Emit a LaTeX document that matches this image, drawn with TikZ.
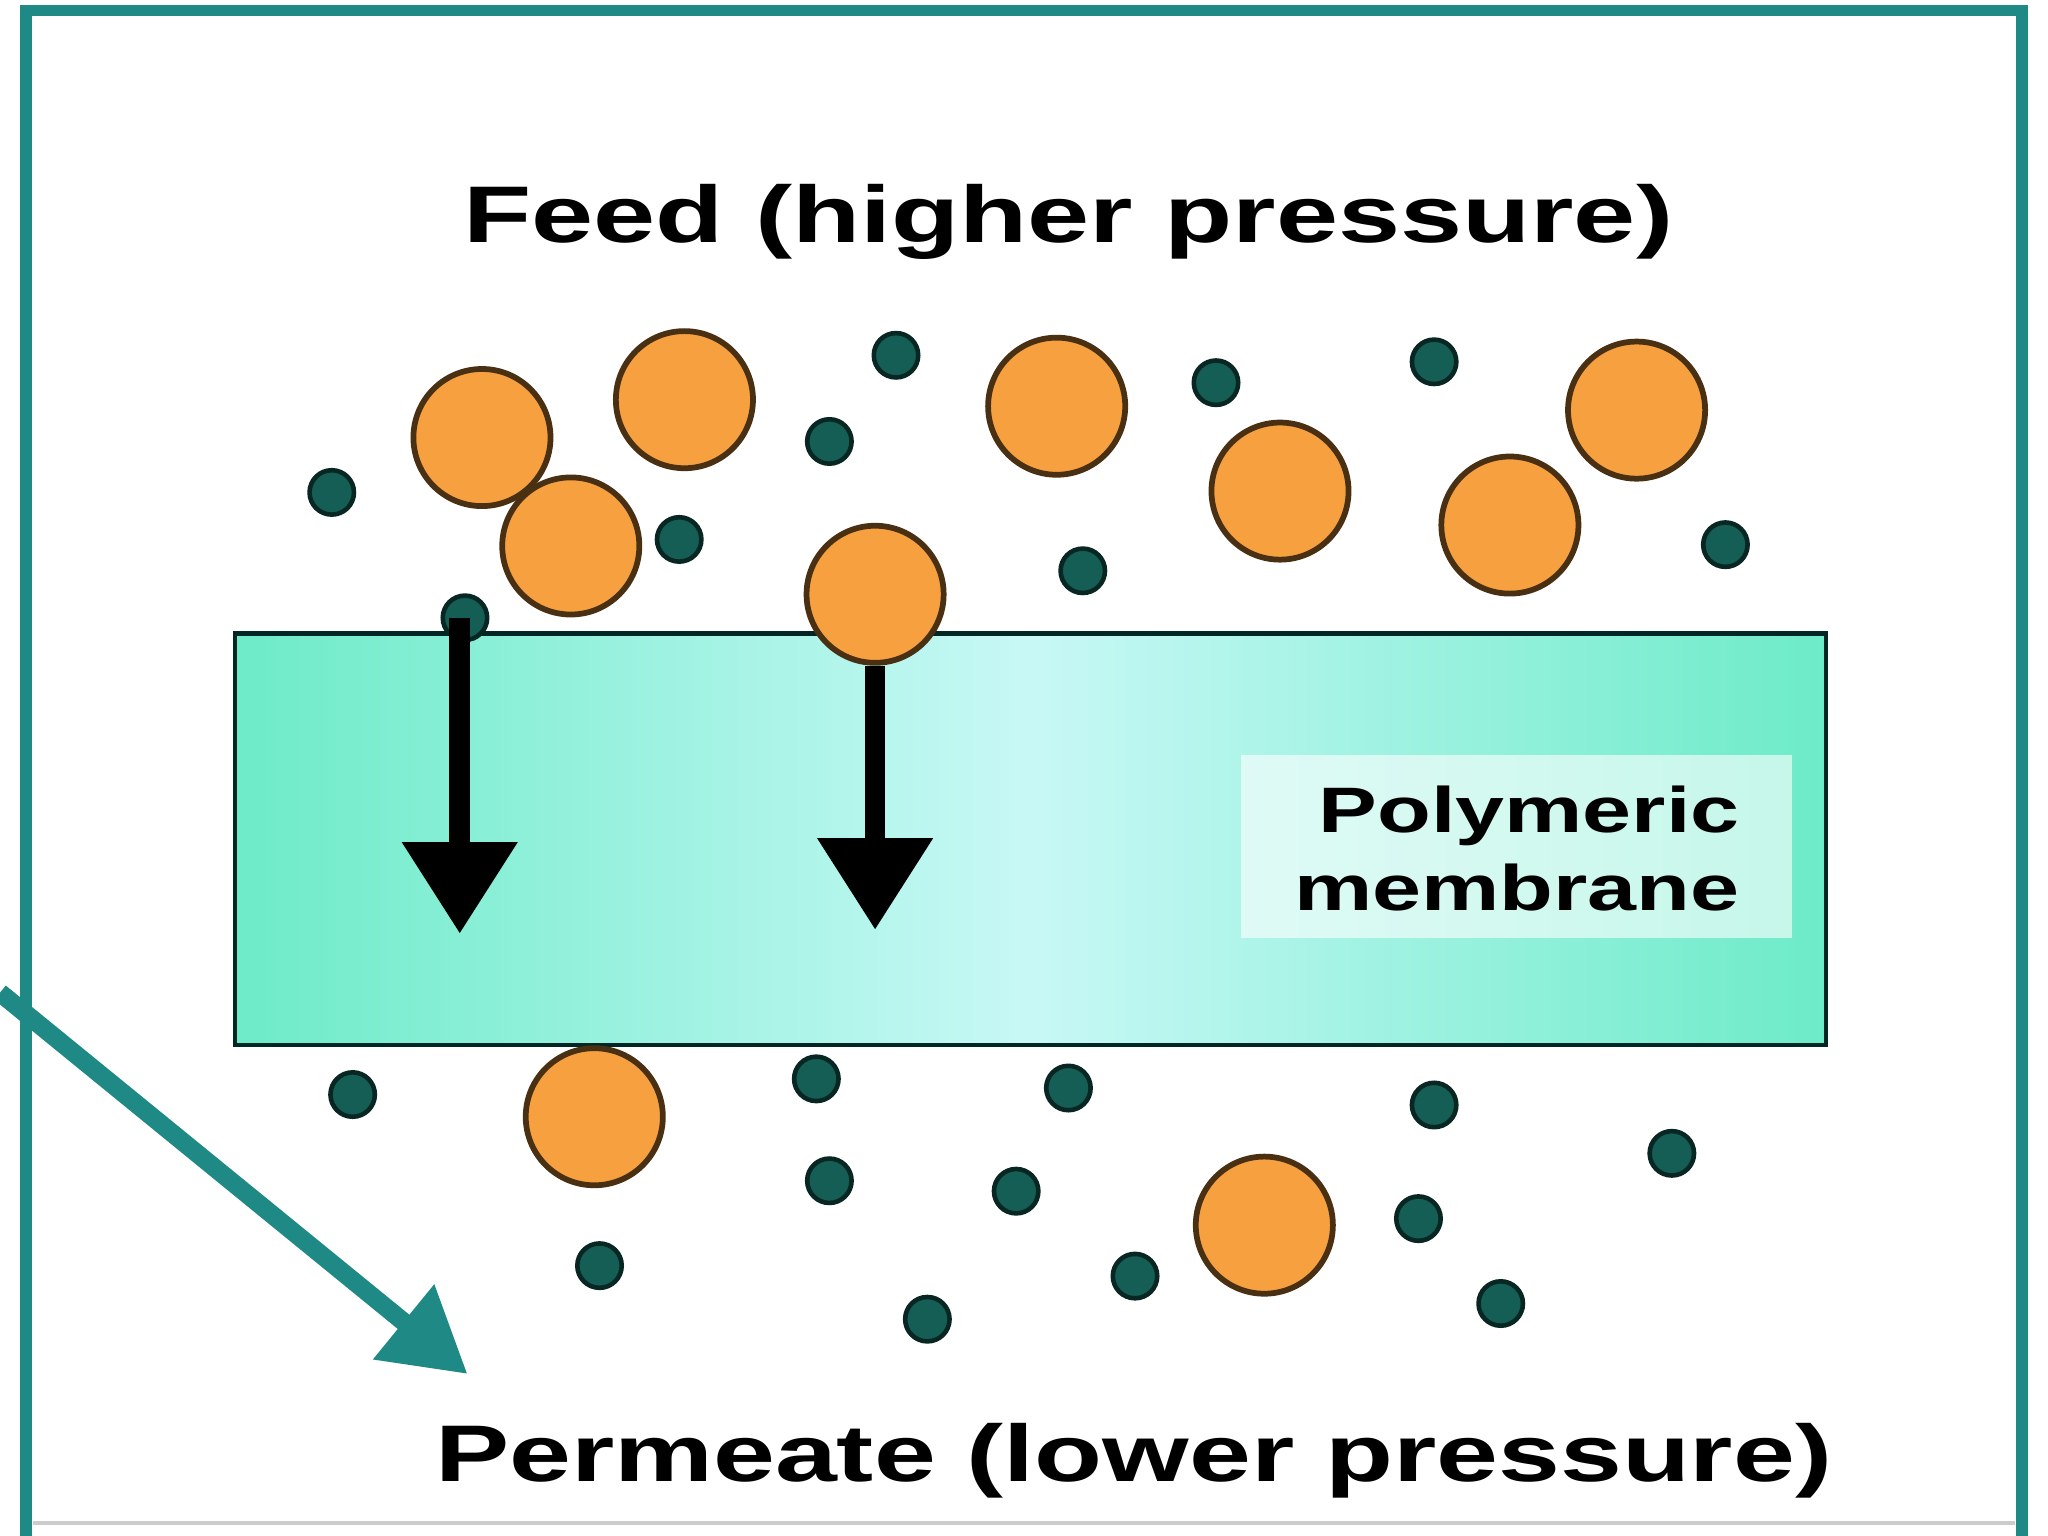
\documentclass[tikz,border=0pt]{standalone}
\usepackage{fontspec}
\setmainfont{Liberation Sans}
\usetikzlibrary{arrows.meta}
\definecolor{tealf}{HTML}{1F8A85}
\definecolor{dotc}{HTML}{155E55}
\definecolor{orng}{HTML}{F7A040}
\definecolor{memA}{HTML}{6DEBC8}
\definecolor{memB}{HTML}{C8F8F6}
\tikzset{
 big/.style={circle,draw=black!70!orng,line width=2.5pt,fill=orng,minimum size=2.1cm,inner sep=0},
 sm/.style={circle,draw=black!60!dotc,line width=2pt,fill=dotc,minimum size=0.68cm,inner sep=0},
 ttl/.style={font=\bfseries\fontsize{35}{40}\selectfont},
 flow/.style={line width=9pt,-{Triangle[length=40pt,width=48pt]}}
}
\begin{document}
\begin{tikzpicture}[x=0.02cm,y=-0.02cm]
\useasboundingbox (0,0) rectangle (1568,1176);
\fill[white] (0,0) rectangle (1568,1176);
\draw[tealf,line width=5pt] (20,1176) -- (20,8) -- (1548,8) -- (1548,1176);
\draw[gray!40,line width=2pt] (25,1166) -- (1543,1166);
\node[ttl] (feed) at (818,170) {\scalebox{1.39}[1]{Feed (higher pressure)}};
\node[ttl] (perm) at (868,1118) {\scalebox{1.385}[1]{Permeate (lower pressure)}};
\shade[left color=memA,right color=memA,middle color=memB] (180,485) rectangle (1398,800);
\draw[black!70!teal,line width=2pt] (180,485) rectangle (1398,800);
\fill[white,opacity=0.6] (950,578) rectangle (1372,718);
\node[font=\bfseries\fontsize{28}{34}\selectfont,align=right,anchor=east] (lab) at (1338,650) {\scalebox{1.37}[1]{Polymeric}\\\scalebox{1.37}[1]{membrane}};
\foreach \n/\x/\y in {a/369/335,b/524/306,c/809/311,d/1253/314,e/980/376,f/1156/402,g/437/418,h/670/455,i/455/855,j/968/938}
  \node[big] (o\n) at (\x,\y) {};
\foreach \n/\x/\y in {a/254/377,b/686/272,c/635/338,d/931/293,e/1098/277,f/520/413,g/829/437,h/1321/417,i/356/473,j/270/838,k/625/826,l/818/833,m/1098/846,n/1280/883,o/635/904,p/778/912,q/1086/933,r/459/969,s/869/977,t/1149/998,u/710/1010}
  \node[sm] (s\n) at (\x,\y) {};
\coordinate (e1) at (352,715);
\coordinate (e2) at (670,712);
\draw[flow] (si.center) ++(-4,0) -- (e1);
\draw[flow] (oh.south) -- (e2);
\coordinate (tstart) at (0,760);
\coordinate (tend) at (358,1052);
\draw[tealf,line width=8pt,-{Triangle[length=36pt,width=40pt]}] (tstart) -- (tend);
\end{tikzpicture}
\end{document}
